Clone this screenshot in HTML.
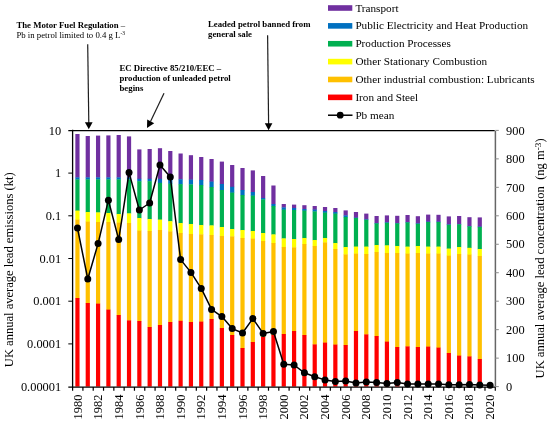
<!DOCTYPE html>
<html><head><meta charset="utf-8"><title>UK lead emissions and concentration</title>
<style>html,body{margin:0;padding:0;background:#fff}body{width:550px;height:422px;overflow:hidden}svg{display:block}text{font-family:"Liberation Serif","DejaVu Serif",serif;fill:#000}</style></head><body>
<svg width="550" height="422" viewBox="0 0 550 422">
<rect width="550" height="422" fill="#fff"/>
<g>
<rect x="75.35" y="134" width="4.2" height="43.7" fill="#7030a0"/>
<rect x="75.35" y="177.4" width="4.2" height="2.3" fill="#0070c0"/>
<rect x="75.35" y="179.4" width="4.2" height="31.5" fill="#00b050"/>
<rect x="75.35" y="210.6" width="4.2" height="9.3" fill="#ffff00"/>
<rect x="75.35" y="219.6" width="4.2" height="78.7" fill="#ffc000"/>
<rect x="75.35" y="298" width="4.2" height="88.6" fill="#ff0000"/>
<rect x="85.67" y="136" width="4.2" height="41.7" fill="#7030a0"/>
<rect x="85.67" y="177.4" width="4.2" height="2.3" fill="#0070c0"/>
<rect x="85.67" y="179.4" width="4.2" height="32.9" fill="#00b050"/>
<rect x="85.67" y="212" width="4.2" height="9.9" fill="#ffff00"/>
<rect x="85.67" y="221.6" width="4.2" height="81.7" fill="#ffc000"/>
<rect x="85.67" y="303" width="4.2" height="83.6" fill="#ff0000"/>
<rect x="95.98" y="135.6" width="4.2" height="42.1" fill="#7030a0"/>
<rect x="95.98" y="177.4" width="4.2" height="2.3" fill="#0070c0"/>
<rect x="95.98" y="179.4" width="4.2" height="33.3" fill="#00b050"/>
<rect x="95.98" y="212.4" width="4.2" height="9.9" fill="#ffff00"/>
<rect x="95.98" y="222" width="4.2" height="81.9" fill="#ffc000"/>
<rect x="95.98" y="303.6" width="4.2" height="83" fill="#ff0000"/>
<rect x="106.3" y="135.4" width="4.2" height="42.3" fill="#7030a0"/>
<rect x="106.3" y="177.4" width="4.2" height="2.3" fill="#0070c0"/>
<rect x="106.3" y="179.4" width="4.2" height="33.9" fill="#00b050"/>
<rect x="106.3" y="213" width="4.2" height="9.3" fill="#ffff00"/>
<rect x="106.3" y="222" width="4.2" height="87.9" fill="#ffc000"/>
<rect x="106.3" y="309.6" width="4.2" height="77" fill="#ff0000"/>
<rect x="116.61" y="135" width="4.2" height="42.7" fill="#7030a0"/>
<rect x="116.61" y="177.4" width="4.2" height="2.3" fill="#0070c0"/>
<rect x="116.61" y="179.4" width="4.2" height="34.9" fill="#00b050"/>
<rect x="116.61" y="214" width="4.2" height="8.9" fill="#ffff00"/>
<rect x="116.61" y="222.6" width="4.2" height="92.7" fill="#ffc000"/>
<rect x="116.61" y="315" width="4.2" height="71.6" fill="#ff0000"/>
<rect x="126.93" y="136.4" width="4.2" height="41.3" fill="#7030a0"/>
<rect x="126.93" y="177.4" width="4.2" height="2.3" fill="#0070c0"/>
<rect x="126.93" y="179.4" width="4.2" height="34.3" fill="#00b050"/>
<rect x="126.93" y="213.4" width="4.2" height="9.9" fill="#ffff00"/>
<rect x="126.93" y="223" width="4.2" height="97.7" fill="#ffc000"/>
<rect x="126.93" y="320.4" width="4.2" height="66.2" fill="#ff0000"/>
<rect x="137.25" y="149.4" width="4.2" height="29.7" fill="#7030a0"/>
<rect x="137.25" y="178.8" width="4.2" height="2.7" fill="#0070c0"/>
<rect x="137.25" y="181.2" width="4.2" height="37.1" fill="#00b050"/>
<rect x="137.25" y="218" width="4.2" height="12.9" fill="#ffff00"/>
<rect x="137.25" y="230.6" width="4.2" height="90.7" fill="#ffc000"/>
<rect x="137.25" y="321" width="4.2" height="65.6" fill="#ff0000"/>
<rect x="147.56" y="149" width="4.2" height="30.1" fill="#7030a0"/>
<rect x="147.56" y="178.8" width="4.2" height="2.7" fill="#0070c0"/>
<rect x="147.56" y="181.2" width="4.2" height="38.1" fill="#00b050"/>
<rect x="147.56" y="219" width="4.2" height="12.3" fill="#ffff00"/>
<rect x="147.56" y="231" width="4.2" height="96.3" fill="#ffc000"/>
<rect x="147.56" y="327" width="4.2" height="59.6" fill="#ff0000"/>
<rect x="157.88" y="148.2" width="4.2" height="31" fill="#7030a0"/>
<rect x="157.88" y="178.9" width="4.2" height="4.3" fill="#0070c0"/>
<rect x="157.88" y="182.9" width="4.2" height="37" fill="#00b050"/>
<rect x="157.88" y="219.6" width="4.2" height="10.7" fill="#ffff00"/>
<rect x="157.88" y="230" width="4.2" height="95.3" fill="#ffc000"/>
<rect x="157.88" y="325" width="4.2" height="61.6" fill="#ff0000"/>
<rect x="168.19" y="151" width="4.2" height="28.3" fill="#7030a0"/>
<rect x="168.19" y="179" width="4.2" height="4.9" fill="#0070c0"/>
<rect x="168.19" y="183.6" width="4.2" height="37.9" fill="#00b050"/>
<rect x="168.19" y="221.2" width="4.2" height="10.5" fill="#ffff00"/>
<rect x="168.19" y="231.4" width="4.2" height="90.9" fill="#ffc000"/>
<rect x="168.19" y="322" width="4.2" height="64.6" fill="#ff0000"/>
<rect x="178.51" y="153.5" width="4.2" height="26" fill="#7030a0"/>
<rect x="178.51" y="179.2" width="4.2" height="5.2" fill="#0070c0"/>
<rect x="178.51" y="184.1" width="4.2" height="39.2" fill="#00b050"/>
<rect x="178.51" y="223" width="4.2" height="10.3" fill="#ffff00"/>
<rect x="178.51" y="233" width="4.2" height="88.1" fill="#ffc000"/>
<rect x="178.51" y="320.8" width="4.2" height="65.8" fill="#ff0000"/>
<rect x="188.83" y="155.2" width="4.2" height="24.7" fill="#7030a0"/>
<rect x="188.83" y="179.6" width="4.2" height="5.1" fill="#0070c0"/>
<rect x="188.83" y="184.4" width="4.2" height="39.9" fill="#00b050"/>
<rect x="188.83" y="224" width="4.2" height="10.3" fill="#ffff00"/>
<rect x="188.83" y="234" width="4.2" height="88.3" fill="#ffc000"/>
<rect x="188.83" y="322" width="4.2" height="64.6" fill="#ff0000"/>
<rect x="199.14" y="157" width="4.2" height="23.3" fill="#7030a0"/>
<rect x="199.14" y="180" width="4.2" height="5.3" fill="#0070c0"/>
<rect x="199.14" y="185" width="4.2" height="40.3" fill="#00b050"/>
<rect x="199.14" y="225" width="4.2" height="9.7" fill="#ffff00"/>
<rect x="199.14" y="234.4" width="4.2" height="87.5" fill="#ffc000"/>
<rect x="199.14" y="321.6" width="4.2" height="65" fill="#ff0000"/>
<rect x="209.46" y="159" width="4.2" height="22.9" fill="#7030a0"/>
<rect x="209.46" y="181.6" width="4.2" height="5.7" fill="#0070c0"/>
<rect x="209.46" y="187" width="4.2" height="38.7" fill="#00b050"/>
<rect x="209.46" y="225.4" width="4.2" height="9.9" fill="#ffff00"/>
<rect x="209.46" y="235" width="4.2" height="84.3" fill="#ffc000"/>
<rect x="209.46" y="319" width="4.2" height="67.6" fill="#ff0000"/>
<rect x="219.77" y="161.6" width="4.2" height="22.7" fill="#7030a0"/>
<rect x="219.77" y="184" width="4.2" height="6.3" fill="#0070c0"/>
<rect x="219.77" y="190" width="4.2" height="37.3" fill="#00b050"/>
<rect x="219.77" y="227" width="4.2" height="9.3" fill="#ffff00"/>
<rect x="219.77" y="236" width="4.2" height="92.3" fill="#ffc000"/>
<rect x="219.77" y="328" width="4.2" height="58.6" fill="#ff0000"/>
<rect x="230.09" y="165" width="4.2" height="22.1" fill="#7030a0"/>
<rect x="230.09" y="186.8" width="4.2" height="6.1" fill="#0070c0"/>
<rect x="230.09" y="192.6" width="4.2" height="36.7" fill="#00b050"/>
<rect x="230.09" y="229" width="4.2" height="7.7" fill="#ffff00"/>
<rect x="230.09" y="236.4" width="4.2" height="98.9" fill="#ffc000"/>
<rect x="230.09" y="335" width="4.2" height="51.6" fill="#ff0000"/>
<rect x="240.41" y="168" width="4.2" height="22.3" fill="#7030a0"/>
<rect x="240.41" y="190" width="4.2" height="5.3" fill="#0070c0"/>
<rect x="240.41" y="195" width="4.2" height="35.3" fill="#00b050"/>
<rect x="240.41" y="230" width="4.2" height="8.3" fill="#ffff00"/>
<rect x="240.41" y="238" width="4.2" height="110.3" fill="#ffc000"/>
<rect x="240.41" y="348" width="4.2" height="38.6" fill="#ff0000"/>
<rect x="250.72" y="170.4" width="4.2" height="21.9" fill="#7030a0"/>
<rect x="250.72" y="192" width="4.2" height="3.9" fill="#0070c0"/>
<rect x="250.72" y="195.6" width="4.2" height="35.7" fill="#00b050"/>
<rect x="250.72" y="231" width="4.2" height="7.9" fill="#ffff00"/>
<rect x="250.72" y="238.6" width="4.2" height="103.7" fill="#ffc000"/>
<rect x="250.72" y="342" width="4.2" height="44.6" fill="#ff0000"/>
<rect x="261.04" y="176" width="4.2" height="22.3" fill="#7030a0"/>
<rect x="261.04" y="198" width="4.2" height="1.7" fill="#0070c0"/>
<rect x="261.04" y="199.4" width="4.2" height="33.9" fill="#00b050"/>
<rect x="261.04" y="233" width="4.2" height="8.3" fill="#ffff00"/>
<rect x="261.04" y="241" width="4.2" height="96.3" fill="#ffc000"/>
<rect x="261.04" y="337" width="4.2" height="49.6" fill="#ff0000"/>
<rect x="271.35" y="185.5" width="4.2" height="18.8" fill="#7030a0"/>
<rect x="271.35" y="204" width="4.2" height="2.3" fill="#0070c0"/>
<rect x="271.35" y="206" width="4.2" height="28.7" fill="#00b050"/>
<rect x="271.35" y="234.4" width="4.2" height="8.9" fill="#ffff00"/>
<rect x="271.35" y="243" width="4.2" height="92.3" fill="#ffc000"/>
<rect x="271.35" y="335" width="4.2" height="51.6" fill="#ff0000"/>
<rect x="281.67" y="204" width="4.2" height="3.7" fill="#7030a0"/>
<rect x="281.67" y="207.4" width="4.2" height="2.5" fill="#0070c0"/>
<rect x="281.67" y="209.6" width="4.2" height="29.1" fill="#00b050"/>
<rect x="281.67" y="238.4" width="4.2" height="8.9" fill="#ffff00"/>
<rect x="281.67" y="247" width="4.2" height="87.3" fill="#ffc000"/>
<rect x="281.67" y="334" width="4.2" height="52.6" fill="#ff0000"/>
<rect x="291.99" y="204.6" width="4.2" height="3.7" fill="#7030a0"/>
<rect x="291.99" y="208" width="4.2" height="2.3" fill="#0070c0"/>
<rect x="291.99" y="210" width="4.2" height="29.3" fill="#00b050"/>
<rect x="291.99" y="239" width="4.2" height="8.7" fill="#ffff00"/>
<rect x="291.99" y="247.4" width="4.2" height="83.9" fill="#ffc000"/>
<rect x="291.99" y="331" width="4.2" height="55.6" fill="#ff0000"/>
<rect x="302.3" y="205.2" width="4.2" height="4.1" fill="#7030a0"/>
<rect x="302.3" y="209" width="4.2" height="1.9" fill="#0070c0"/>
<rect x="302.3" y="210.6" width="4.2" height="27.7" fill="#00b050"/>
<rect x="302.3" y="238" width="4.2" height="6.3" fill="#ffff00"/>
<rect x="302.3" y="244" width="4.2" height="91.3" fill="#ffc000"/>
<rect x="302.3" y="335" width="4.2" height="51.6" fill="#ff0000"/>
<rect x="312.62" y="206" width="4.2" height="3.9" fill="#7030a0"/>
<rect x="312.62" y="209.6" width="4.2" height="2.1" fill="#0070c0"/>
<rect x="312.62" y="211.4" width="4.2" height="28.9" fill="#00b050"/>
<rect x="312.62" y="240" width="4.2" height="6.3" fill="#ffff00"/>
<rect x="312.62" y="246" width="4.2" height="98.7" fill="#ffc000"/>
<rect x="312.62" y="344.4" width="4.2" height="42.2" fill="#ff0000"/>
<rect x="322.93" y="207" width="4.2" height="4.3" fill="#7030a0"/>
<rect x="322.93" y="211" width="4.2" height="1.9" fill="#0070c0"/>
<rect x="322.93" y="212.6" width="4.2" height="25.7" fill="#00b050"/>
<rect x="322.93" y="238" width="4.2" height="4.7" fill="#ffff00"/>
<rect x="322.93" y="242.4" width="4.2" height="100.5" fill="#ffc000"/>
<rect x="322.93" y="342.6" width="4.2" height="44" fill="#ff0000"/>
<rect x="333.25" y="208" width="4.2" height="4.3" fill="#7030a0"/>
<rect x="333.25" y="212" width="4.2" height="1.9" fill="#0070c0"/>
<rect x="333.25" y="213.6" width="4.2" height="29.7" fill="#00b050"/>
<rect x="333.25" y="243" width="4.2" height="6.3" fill="#ffff00"/>
<rect x="333.25" y="249" width="4.2" height="95.9" fill="#ffc000"/>
<rect x="333.25" y="344.6" width="4.2" height="42" fill="#ff0000"/>
<rect x="343.57" y="210.4" width="4.2" height="5.3" fill="#7030a0"/>
<rect x="343.57" y="215.4" width="4.2" height="1.9" fill="#0070c0"/>
<rect x="343.57" y="217" width="4.2" height="30.3" fill="#00b050"/>
<rect x="343.57" y="247" width="4.2" height="7.7" fill="#ffff00"/>
<rect x="343.57" y="254.4" width="4.2" height="90.9" fill="#ffc000"/>
<rect x="343.57" y="345" width="4.2" height="41.6" fill="#ff0000"/>
<rect x="353.88" y="212" width="4.2" height="5.9" fill="#7030a0"/>
<rect x="353.88" y="217.6" width="4.2" height="0.7" fill="#0070c0"/>
<rect x="353.88" y="218" width="4.2" height="28.9" fill="#00b050"/>
<rect x="353.88" y="246.6" width="4.2" height="7.3" fill="#ffff00"/>
<rect x="353.88" y="253.6" width="4.2" height="77.7" fill="#ffc000"/>
<rect x="353.88" y="331" width="4.2" height="55.6" fill="#ff0000"/>
<rect x="364.2" y="213.6" width="4.2" height="6.1" fill="#7030a0"/>
<rect x="364.2" y="219.4" width="4.2" height="0.7" fill="#0070c0"/>
<rect x="364.2" y="219.8" width="4.2" height="27.1" fill="#00b050"/>
<rect x="364.2" y="246.6" width="4.2" height="7.7" fill="#ffff00"/>
<rect x="364.2" y="254" width="4.2" height="80.7" fill="#ffc000"/>
<rect x="364.2" y="334.4" width="4.2" height="52.2" fill="#ff0000"/>
<rect x="374.51" y="216" width="4.2" height="7.3" fill="#7030a0"/>
<rect x="374.51" y="223" width="4.2" height="0.7" fill="#0070c0"/>
<rect x="374.51" y="223.4" width="4.2" height="21.9" fill="#00b050"/>
<rect x="374.51" y="245" width="4.2" height="7.3" fill="#ffff00"/>
<rect x="374.51" y="252" width="4.2" height="84.3" fill="#ffc000"/>
<rect x="374.51" y="336" width="4.2" height="50.6" fill="#ff0000"/>
<rect x="384.83" y="215.4" width="4.2" height="7.3" fill="#7030a0"/>
<rect x="384.83" y="222.4" width="4.2" height="0.7" fill="#0070c0"/>
<rect x="384.83" y="222.8" width="4.2" height="22.9" fill="#00b050"/>
<rect x="384.83" y="245.4" width="4.2" height="7.9" fill="#ffff00"/>
<rect x="384.83" y="253" width="4.2" height="88.9" fill="#ffc000"/>
<rect x="384.83" y="341.6" width="4.2" height="45" fill="#ff0000"/>
<rect x="395.15" y="215.8" width="4.2" height="7.5" fill="#7030a0"/>
<rect x="395.15" y="223" width="4.2" height="0.7" fill="#0070c0"/>
<rect x="395.15" y="223.4" width="4.2" height="22.9" fill="#00b050"/>
<rect x="395.15" y="246" width="4.2" height="7.3" fill="#ffff00"/>
<rect x="395.15" y="253" width="4.2" height="94.3" fill="#ffc000"/>
<rect x="395.15" y="347" width="4.2" height="39.6" fill="#ff0000"/>
<rect x="405.46" y="215" width="4.2" height="7.3" fill="#7030a0"/>
<rect x="405.46" y="222" width="4.2" height="0.7" fill="#0070c0"/>
<rect x="405.46" y="222.4" width="4.2" height="24.5" fill="#00b050"/>
<rect x="405.46" y="246.6" width="4.2" height="7.3" fill="#ffff00"/>
<rect x="405.46" y="253.6" width="4.2" height="93.1" fill="#ffc000"/>
<rect x="405.46" y="346.4" width="4.2" height="40.2" fill="#ff0000"/>
<rect x="415.78" y="216.2" width="4.2" height="7.5" fill="#7030a0"/>
<rect x="415.78" y="223.4" width="4.2" height="0.7" fill="#0070c0"/>
<rect x="415.78" y="223.8" width="4.2" height="22.5" fill="#00b050"/>
<rect x="415.78" y="246" width="4.2" height="7.3" fill="#ffff00"/>
<rect x="415.78" y="253" width="4.2" height="94.3" fill="#ffc000"/>
<rect x="415.78" y="347" width="4.2" height="39.6" fill="#ff0000"/>
<rect x="426.09" y="214.6" width="4.2" height="7.3" fill="#7030a0"/>
<rect x="426.09" y="221.6" width="4.2" height="0.7" fill="#0070c0"/>
<rect x="426.09" y="222" width="4.2" height="24.9" fill="#00b050"/>
<rect x="426.09" y="246.6" width="4.2" height="7.3" fill="#ffff00"/>
<rect x="426.09" y="253.6" width="4.2" height="93.3" fill="#ffc000"/>
<rect x="426.09" y="346.6" width="4.2" height="40" fill="#ff0000"/>
<rect x="436.41" y="214.8" width="4.2" height="7.1" fill="#7030a0"/>
<rect x="436.41" y="221.6" width="4.2" height="0.7" fill="#0070c0"/>
<rect x="436.41" y="222" width="4.2" height="24.9" fill="#00b050"/>
<rect x="436.41" y="246.6" width="4.2" height="7.3" fill="#ffff00"/>
<rect x="436.41" y="253.6" width="4.2" height="94.3" fill="#ffc000"/>
<rect x="436.41" y="347.6" width="4.2" height="39" fill="#ff0000"/>
<rect x="446.73" y="216.4" width="4.2" height="8.3" fill="#7030a0"/>
<rect x="446.73" y="224.4" width="4.2" height="0.7" fill="#0070c0"/>
<rect x="446.73" y="224.8" width="4.2" height="24.1" fill="#00b050"/>
<rect x="446.73" y="248.6" width="4.2" height="7.3" fill="#ffff00"/>
<rect x="446.73" y="255.6" width="4.2" height="97.7" fill="#ffc000"/>
<rect x="446.73" y="353" width="4.2" height="33.6" fill="#ff0000"/>
<rect x="457.04" y="216" width="4.2" height="8.3" fill="#7030a0"/>
<rect x="457.04" y="224" width="4.2" height="0.7" fill="#0070c0"/>
<rect x="457.04" y="224.4" width="4.2" height="22.9" fill="#00b050"/>
<rect x="457.04" y="247" width="4.2" height="7.3" fill="#ffff00"/>
<rect x="457.04" y="254" width="4.2" height="101.9" fill="#ffc000"/>
<rect x="457.04" y="355.6" width="4.2" height="31" fill="#ff0000"/>
<rect x="467.36" y="217.2" width="4.2" height="9.1" fill="#7030a0"/>
<rect x="467.36" y="226" width="4.2" height="0.7" fill="#0070c0"/>
<rect x="467.36" y="226.4" width="4.2" height="21.7" fill="#00b050"/>
<rect x="467.36" y="247.8" width="4.2" height="7.1" fill="#ffff00"/>
<rect x="467.36" y="254.6" width="4.2" height="102.1" fill="#ffc000"/>
<rect x="467.36" y="356.4" width="4.2" height="30.2" fill="#ff0000"/>
<rect x="477.67" y="217.4" width="4.2" height="9.5" fill="#7030a0"/>
<rect x="477.67" y="226.6" width="4.2" height="0.7" fill="#0070c0"/>
<rect x="477.67" y="227" width="4.2" height="22.3" fill="#00b050"/>
<rect x="477.67" y="249" width="4.2" height="7.3" fill="#ffff00"/>
<rect x="477.67" y="256" width="4.2" height="103.3" fill="#ffc000"/>
<rect x="477.67" y="359" width="4.2" height="27.6" fill="#ff0000"/>
</g>
<g stroke="#000" fill="none">
<path d="M72.6 129.8 V387.2" stroke-width="1.3"/>
<path d="M68.3 130.65 H494.7" stroke-width="1.3"/>
<path d="M68.3 387.05 H495.8" stroke-width="1.35"/>
<path d="M68.3 173.1 H72.6M68.3 215.8 H72.6M68.3 258.5 H72.6M68.3 301.2 H72.6M68.3 343.9 H72.6" stroke-width="1"/>
<path d="M72.6 387 V390.7M82.91 387 V390.7M93.22 387 V390.7M103.53 387 V390.7M113.84 387 V390.7M124.15 387 V390.7M134.46 387 V390.7M144.77 387 V390.7M155.08 387 V390.7M165.39 387 V390.7M175.7 387 V390.7M186.01 387 V390.7M196.32 387 V390.7M206.63 387 V390.7M216.94 387 V390.7M227.25 387 V390.7M237.56 387 V390.7M247.87 387 V390.7M258.18 387 V390.7M268.49 387 V390.7M278.8 387 V390.7M289.1 387 V390.7M299.41 387 V390.7M309.72 387 V390.7M320.03 387 V390.7M330.34 387 V390.7M340.65 387 V390.7M350.96 387 V390.7M361.27 387 V390.7M371.58 387 V390.7M381.89 387 V390.7M392.2 387 V390.7M402.51 387 V390.7M412.82 387 V390.7M423.13 387 V390.7M433.44 387 V390.7M443.75 387 V390.7M454.06 387 V390.7M464.37 387 V390.7M474.68 387 V390.7M484.99 387 V390.7M495.3 387 V390.7" stroke-width="1.2"/>
</g>
<g stroke="#595959" fill="none">
<path d="M495.4 130.9 V387.2" stroke-width="1.5" stroke="#666"/>
<path d="M495.3 386.6 H498.8M495.3 358.13 H498.8M495.3 329.67 H498.8M495.3 301.2 H498.8M495.3 272.73 H498.8M495.3 244.27 H498.8M495.3 215.8 H498.8M495.3 187.33 H498.8M495.3 158.87 H498.8M495.3 130.4 H498.8" stroke-width="1" stroke="#8c8c8c"/>
</g>
<polyline points="77.45,228 87.77,279 98.08,243.6 108.4,200.2 118.71,239.6 129.03,172.6 139.35,210 149.66,203 159.98,165 170.29,177 180.61,259.6 190.93,272.4 201.24,288.4 211.56,309.4 221.87,316.6 232.19,328.6 242.51,333 252.82,318.6 263.14,333.4 273.45,331.6 283.77,364.2 294.09,365 304.4,372.8 314.72,376.8 325.03,379.9 335.35,381.5 345.67,380.9 355.98,383 366.3,382 376.61,382.5 386.93,383.6 397.25,382.4 407.56,384 417.88,384 428.19,384 438.51,384 448.83,384.8 459.14,384.8 469.46,384.6 479.77,384.9 490.09,385.3" fill="none" stroke="#000" stroke-width="1.5" stroke-linejoin="round"/>
<g fill="#000">
<circle cx="77.45" cy="228" r="3.5"/>
<circle cx="87.77" cy="279" r="3.5"/>
<circle cx="98.08" cy="243.6" r="3.5"/>
<circle cx="108.4" cy="200.2" r="3.5"/>
<circle cx="118.71" cy="239.6" r="3.5"/>
<circle cx="129.03" cy="172.6" r="3.5"/>
<circle cx="139.35" cy="210" r="3.5"/>
<circle cx="149.66" cy="203" r="3.5"/>
<circle cx="159.98" cy="165" r="3.5"/>
<circle cx="170.29" cy="177" r="3.5"/>
<circle cx="180.61" cy="259.6" r="3.5"/>
<circle cx="190.93" cy="272.4" r="3.5"/>
<circle cx="201.24" cy="288.4" r="3.5"/>
<circle cx="211.56" cy="309.4" r="3.5"/>
<circle cx="221.87" cy="316.6" r="3.5"/>
<circle cx="232.19" cy="328.6" r="3.5"/>
<circle cx="242.51" cy="333" r="3.5"/>
<circle cx="252.82" cy="318.6" r="3.5"/>
<circle cx="263.14" cy="333.4" r="3.5"/>
<circle cx="273.45" cy="331.6" r="3.5"/>
<circle cx="283.77" cy="364.2" r="3.5"/>
<circle cx="294.09" cy="365" r="3.5"/>
<circle cx="304.4" cy="372.8" r="3.5"/>
<circle cx="314.72" cy="376.8" r="3.5"/>
<circle cx="325.03" cy="379.9" r="3.5"/>
<circle cx="335.35" cy="381.5" r="3.5"/>
<circle cx="345.67" cy="380.9" r="3.5"/>
<circle cx="355.98" cy="383" r="3.5"/>
<circle cx="366.3" cy="382" r="3.5"/>
<circle cx="376.61" cy="382.5" r="3.5"/>
<circle cx="386.93" cy="383.6" r="3.5"/>
<circle cx="397.25" cy="382.4" r="3.5"/>
<circle cx="407.56" cy="384" r="3.5"/>
<circle cx="417.88" cy="384" r="3.5"/>
<circle cx="428.19" cy="384" r="3.5"/>
<circle cx="438.51" cy="384" r="3.5"/>
<circle cx="448.83" cy="384.8" r="3.5"/>
<circle cx="459.14" cy="384.8" r="3.5"/>
<circle cx="469.46" cy="384.6" r="3.5"/>
<circle cx="479.77" cy="384.9" r="3.5"/>
<circle cx="490.09" cy="385.3" r="3.5"/>
</g>
<g font-size="12.4" text-anchor="end">
<text x="61.2" y="134.6">10</text>
<text x="61.2" y="177.3">1</text>
<text x="61.2" y="220">0.1</text>
<text x="61.2" y="262.7">0.01</text>
<text x="61.2" y="305.4">0.001</text>
<text x="61.2" y="348.1">0.0001</text>
<text x="61.2" y="390.8">0.00001</text>
</g>
<g font-size="12.4">
<text x="506" y="390.8">0</text>
<text x="506" y="362.33">100</text>
<text x="506" y="333.87">200</text>
<text x="506" y="305.4">300</text>
<text x="506" y="276.93">400</text>
<text x="506" y="248.47">500</text>
<text x="506" y="220">600</text>
<text x="506" y="191.53">700</text>
<text x="506" y="163.07">800</text>
<text x="506" y="134.6">900</text>
</g>
<g font-size="12.4" text-anchor="end">
<text transform="translate(81.65 394.6) rotate(-90)">1980</text>
<text transform="translate(102.27 394.6) rotate(-90)">1982</text>
<text transform="translate(122.89 394.6) rotate(-90)">1984</text>
<text transform="translate(143.51 394.6) rotate(-90)">1986</text>
<text transform="translate(164.13 394.6) rotate(-90)">1988</text>
<text transform="translate(184.75 394.6) rotate(-90)">1990</text>
<text transform="translate(205.37 394.6) rotate(-90)">1992</text>
<text transform="translate(225.99 394.6) rotate(-90)">1994</text>
<text transform="translate(246.61 394.6) rotate(-90)">1996</text>
<text transform="translate(267.23 394.6) rotate(-90)">1998</text>
<text transform="translate(287.85 394.6) rotate(-90)">2000</text>
<text transform="translate(308.47 394.6) rotate(-90)">2002</text>
<text transform="translate(329.09 394.6) rotate(-90)">2004</text>
<text transform="translate(349.71 394.6) rotate(-90)">2006</text>
<text transform="translate(370.33 394.6) rotate(-90)">2008</text>
<text transform="translate(390.95 394.6) rotate(-90)">2010</text>
<text transform="translate(411.57 394.6) rotate(-90)">2012</text>
<text transform="translate(432.19 394.6) rotate(-90)">2014</text>
<text transform="translate(452.81 394.6) rotate(-90)">2016</text>
<text transform="translate(473.43 394.6) rotate(-90)">2018</text>
<text transform="translate(494.05 394.6) rotate(-90)">2020</text>
</g>
<text font-size="12.55" text-anchor="middle" transform="translate(12.8 269.8) rotate(-90)">UK annual average lead emissions (kt)</text>
<text font-size="12.55" text-anchor="middle" transform="translate(544.2 258.4) rotate(-90)" xml:space="preserve" style="white-space:pre">UK annual average lead concentration  (ng m<tspan font-size="9.2" dy="-3.6">-3</tspan><tspan dy="3.6">)</tspan></text>
<g font-size="11.2">
<rect x="328" y="5.2" width="24.3" height="5.6" fill="#7030a0"/>
<text x="355.4" y="11.5">Transport</text>
<rect x="328" y="23.07" width="24.3" height="5.6" fill="#0070c0"/>
<text x="355.4" y="29.37">Public Electricity and Heat Production</text>
<rect x="328" y="40.94" width="24.3" height="5.6" fill="#00b050"/>
<text x="355.4" y="47.24">Production Processes</text>
<rect x="328" y="58.81" width="24.3" height="5.6" fill="#ffff00"/>
<text x="355.4" y="65.11">Other Stationary Combustion</text>
<rect x="328" y="76.68" width="24.3" height="5.6" fill="#ffc000"/>
<text x="355.4" y="82.98">Other industrial combustion: Lubricants</text>
<rect x="328" y="94.55" width="24.3" height="5.6" fill="#ff0000"/>
<text x="355.4" y="100.85">Iron and Steel</text>
<path d="M328 115.22 H352.5" stroke="#000" stroke-width="1.5"/>
<circle cx="340.2" cy="115.22" r="3.4" fill="#000"/>
<text x="355.4" y="118.72">Pb mean</text>
</g>
<g font-size="8.75">
<text x="16.4" y="27.6"><tspan font-weight="bold">The Motor Fuel Regulation</tspan> –</text>
<text x="16.4" y="38.2">Pb in petrol limited to 0.4 g L<tspan font-size="5.5" dy="-3">-3</tspan></text>
<g font-weight="bold">
<text x="119.5" y="71.4">EC Directive 85/210/EEC –</text>
<text x="119.5" y="81.3">production of unleaded petrol</text>
<text x="119.5" y="91.1">begins</text>
<text x="208" y="27">Leaded petrol banned from</text>
<text x="208" y="36.7">general sale</text>
</g></g>
<g stroke="#1f1f1f" stroke-width="1.2" fill="none">
<path d="M87.7 44.3 L88.8 123"/>
<path d="M267.6 35.3 L268.6 124"/>
<path d="M164 93.2 L150.5 121.5"/>
</g>
<g fill="#000">
<path d="M84.9 122.2 H92.6 L88.8 129.3 Z"/>
<path d="M264.8 123.2 H272.4 L268.6 130.2 Z"/>
<path d="M147 128 L147.2 119.5 L154.2 123.2 Z"/>
</g>
</svg></body></html>
